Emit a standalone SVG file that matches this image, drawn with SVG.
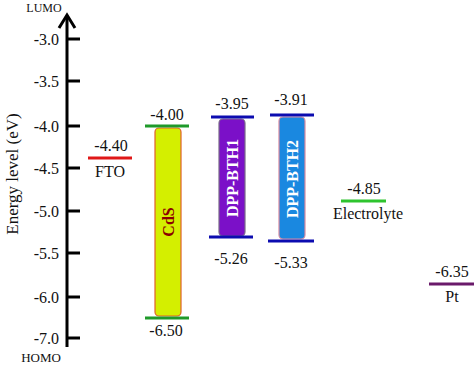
<svg xmlns="http://www.w3.org/2000/svg" width="474" height="365" viewBox="0 0 474 365">
<style>
text{font-family:"Liberation Serif","Times New Roman",serif;fill:#111;}
.v{font-size:16px;text-anchor:middle;}
.t{font-size:16px;text-anchor:end;}
.ax{stroke:#000;stroke-width:3;fill:none;}
.lvl{stroke-width:3;fill:none;}
.bt{font-size:16px;font-weight:bold;text-anchor:middle;}
</style>
<g id="axis">
<line class="ax" x1="67" y1="18" x2="67" y2="347"/>
<path d="M59,28 L67,15 L75,28" class="ax"/>
<line class="ax" x1="67" y1="39" x2="80" y2="39"/>
<line class="ax" x1="67" y1="81" x2="80" y2="81"/>
<line class="ax" x1="67" y1="126" x2="80" y2="126"/>
<line class="ax" x1="67" y1="168" x2="80" y2="168"/>
<line class="ax" x1="67" y1="211" x2="80" y2="211"/>
<line class="ax" x1="67" y1="253" x2="80" y2="253"/>
<line class="ax" x1="67" y1="297" x2="80" y2="297"/>
<line class="ax" x1="67" y1="338" x2="80" y2="338"/>
<text class="t" x="59" y="45">-3.0</text>
<text class="t" x="59" y="87">-3.5</text>
<text class="t" x="59" y="132">-4.0</text>
<text class="t" x="59" y="174">-4.5</text>
<text class="t" x="59" y="217">-5.0</text>
<text class="t" x="59" y="259">-5.5</text>
<text class="t" x="59" y="303">-6.0</text>
<text class="t" x="59" y="344">-7.0</text>
<text x="44" y="12" style="font-size:12px;text-anchor:middle">LUMO</text>
<text x="41" y="362" style="font-size:13px;text-anchor:middle">HOMO</text>
<text transform="translate(18,174) rotate(-90)" style="font-size:17px;text-anchor:middle">Energy level (eV)</text>
</g>
<g id="FTO">
<line class="lvl" x1="88" y1="158" x2="132" y2="158" stroke="#e01818"/>
<text class="v" x="111" y="151">-4.40</text>
<text class="v" x="110" y="177">FTO</text>
</g>
<g id="CdS">
<rect x="155" y="128" width="26" height="188" rx="4" fill="#d4ef00" stroke="#e0602a" stroke-width="1.2"/>
<line class="lvl" x1="145" y1="126" x2="189" y2="126" stroke="#1f9a2a"/>
<line class="lvl" x1="145" y1="318" x2="189" y2="318" stroke="#1f9a2a"/>
<text transform="translate(174,222) rotate(-90)" class="bt" style="fill:#8b0000">CdS</text>
<text class="v" x="167" y="120">-4.00</text>
<text class="v" x="166" y="336">-6.50</text>
</g>
<g id="DPP-BTH1">
<rect x="219" y="119" width="26" height="117" rx="4" fill="#7b10c8" stroke="#7a6a8a" stroke-width="1.2"/>
<line class="lvl" x1="211" y1="117" x2="254" y2="117" stroke="#0c0cb0"/>
<line class="lvl" x1="209" y1="237" x2="253" y2="237" stroke="#0c0cb0"/>
<text transform="translate(238,178) rotate(-90)" class="bt" style="fill:#fff">DPP-BTH1</text>
<text class="v" x="232" y="109">-3.95</text>
<text class="v" x="231" y="264">-5.26</text>
</g>
<g id="DPP-BTH2">
<rect x="279" y="117" width="26" height="122" rx="4" fill="#1a88e0" stroke="#d98aa0" stroke-width="1.2"/>
<line class="lvl" x1="270" y1="115" x2="314" y2="115" stroke="#0c0cb0"/>
<line class="lvl" x1="268" y1="241" x2="314" y2="241" stroke="#0c0cb0"/>
<text transform="translate(298,179) rotate(-90)" class="bt" style="fill:#fff">DPP-BTH2</text>
<text class="v" x="291" y="105">-3.91</text>
<text class="v" x="291" y="268">-5.33</text>
</g>
<g id="Electrolyte">
<line class="lvl" x1="341" y1="201" x2="386" y2="201" stroke="#2ec42e"/>
<text class="v" x="364" y="194">-4.85</text>
<text class="v" x="368" y="219">Electrolyte</text>
</g>
<g id="Pt">
<line class="lvl" x1="429" y1="284" x2="474" y2="284" stroke="#6a1a6a"/>
<text class="v" x="452" y="277">-6.35</text>
<text class="v" x="452" y="302">Pt</text>
</g>
</svg>
